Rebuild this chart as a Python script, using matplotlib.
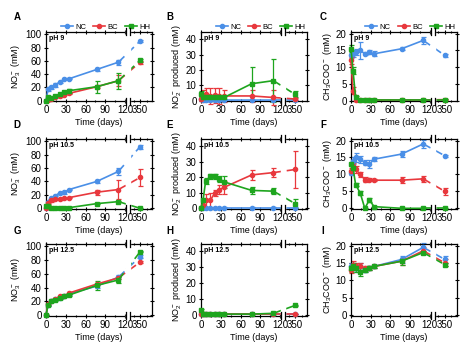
import numpy as np
import matplotlib
matplotlib.use("Agg")
import matplotlib.pyplot as plt
import matplotlib.transforms as mtransforms
from matplotlib.patches import Rectangle

plt.rcParams["font.family"] = ["Liberation Sans", "DejaVu Sans"]
plt.rcParams["mathtext.default"] = "regular"

days = [0, 3, 7, 14, 21, 28, 35, 77, 110, 350]

# A - nitrate, pH 9
A_nc = [0, 17, 20, 24, 28, 33, 33, 47, 58, 90]
A_nc_err = [0.5, 2, 2, 3, 1.5, 1, 1, 2, 4, 2]
A_bc = [0, 1, 3, 5, 7, 9, 11, 21, 30, 58]
A_bc_err = [0.3, 0.5, 1, 1, 1, 1, 1, 2, 8, 2]
A_hh = [0, 6, 4, 7, 10, 13, 15, 21, 30, 61]
A_hh_err = [0.5, 1, 1, 2, 2, 2, 3, 9, 12, 2]

# B - nitrite produced, pH 9
B_nc = [1, 0.5, 0.3, 0.3, 0.3, 0.3, 0.3, 0.3, 0.3, 0.3]
B_nc_err = [0.3] * 10
B_bc = [1, 3, 4, 3, 3.5, 3, 3, 3, 2, 1]
B_bc_err = [1, 4, 4, 5, 5, 5, 4, 4, 5, 0.5]
B_hh = [4, 2, 2, 2, 2, 2, 2, 11, 13, 4]
B_hh_err = [2, 1, 1, 1, 1, 1, 1, 11, 14, 2]

# C - acetate, pH 9
C_nc = [13.5, 14, 14.5, 15, 14, 14.5, 14, 15.5, 18, 13.5]
C_nc_err = [0.8, 1, 1, 2.5, 0.5, 0.5, 0.8, 0.5, 1, 0.5]
C_bc = [12, 3, 0.3, 0.2, 0.2, 0.2, 0.2, 0.2, 0.2, 0.3]
C_bc_err = [1, 1, 0.3, 0.2, 0.2, 0.2, 0.2, 0.2, 0.2, 0.2]
C_hh = [15.5, 9, 1, 0.2, 0.2, 0.2, 0.2, 0.2, 0.2, 0.2]
C_hh_err = [1, 1, 0.5, 0.2, 0.2, 0.2, 0.2, 0.2, 0.2, 0.2]

# D - nitrate, pH 10.5
D_nc = [0, 10, 15, 19, 23, 24, 28, 40, 55, 92]
D_nc_err = [0.5, 1, 1, 1, 1, 2, 1, 2, 5, 3]
D_bc = [0, 8, 12, 14, 14, 15, 16, 24, 28, 46]
D_bc_err = [0.5, 1, 2, 2, 1, 1, 1, 4, 14, 12]
D_hh = [3, 4, 1, 1, 1, 1, 1, 7, 10, 0]
D_hh_err = [1, 1, 0.5, 0.5, 0.5, 0.5, 0.5, 1, 1, 1]

# E - nitrite produced, pH 10.5
E_nc = [0.3] * 10
E_nc_err = [0.2] * 10
E_bc = [0, 2, 5, 5, 10, 12, 13.5, 21.5, 23, 25]
E_bc_err = [0.5, 2, 4, 5, 2, 3, 4, 3, 3, 12]
E_hh = [0, 5, 17.5, 20.5, 20.5, 19, 17, 11.5, 11, 3]
E_hh_err = [0.5, 1, 2, 1.5, 1.5, 2, 4, 2, 2, 3]

# F - acetate, pH 10.5
F_nc = [10.5, 14, 15, 14.5, 13.5, 13, 14.5, 16, 19, 15.5]
F_nc_err = [0.8, 1, 1.2, 1, 0.8, 1.2, 0.6, 0.8, 1.3, 0.3]
F_bc = [11, 12.5, 11.5, 10, 8.5, 8.5, 8.3, 8.3, 8.7, 5]
F_bc_err = [0.8, 1, 1, 0.8, 0.8, 0.3, 0.3, 0.8, 0.8, 1]
F_hh = [13, 12, 7, 4.5, 0, 2.5, 0.5, 0, 0, 0]
F_hh_err = [0.5, 0.5, 0.5, 0.5, 0.2, 0.5, 0.3, 0.2, 0.2, 0.2]

# G - nitrate, pH 12.5
G_nc = [0, 15, 20, 23, 25, 27, 31, 42, 55, 85]
G_nc_err = [0.5, 2, 1, 1, 1, 1, 2, 3, 3, 2]
G_bc = [0, 16, 21, 24, 27, 28, 32, 45, 54, 77]
G_bc_err = [0.5, 1, 1, 1, 1, 1, 1, 2, 2, 2]
G_hh = [0, 14, 20, 22, 25, 28, 29, 43, 51, 92]
G_hh_err = [0.5, 1, 1, 1, 1, 1, 1, 7, 5, 1]

# H - nitrite produced, pH 12.5
H_nc = [0.5] * 10
H_nc_err = [0.2] * 10
H_bc = [0.5] * 10
H_bc_err = [0.2] * 10
H_hh = [3, 0.5, 0.5, 0.5, 0.5, 0.5, 0.5, 0.5, 1, 6]
H_hh_err = [1, 0.2, 0.2, 0.2, 0.2, 0.2, 0.2, 0.2, 0.3, 0.5]

# I - acetate, pH 12.5
I_nc = [14, 14, 13.5, 14, 13, 13.5, 14, 16, 19.5, 16]
I_nc_err = [1, 1, 1, 1, 0.5, 0.5, 0.5, 1, 1.2, 1]
I_bc = [13, 14.5, 14, 14, 13.5, 13.5, 14, 15.5, 18.5, 15]
I_bc_err = [1, 1, 1, 1, 0.5, 0.5, 0.5, 1, 1, 1]
I_hh = [13.5, 14, 13.5, 12.5, 13, 13.5, 14, 15.5, 18, 14.5]
I_hh_err = [1, 1, 1, 1.2, 0.5, 0.5, 0.5, 1, 0.5, 0.5]

names = ["NC", "BC", "HH"]
colors = ["#4a8fe7", "#e8383d", "#1ea51e"]
markers = ["o", "o", "s"]


def fwd(x):
    x = np.asarray(x, dtype=float)
    return np.where(x <= 120, x, np.where(x >= 335, x - 207, 120 + (x - 120) * 8 / 215))


def inv(u):
    u = np.asarray(u, dtype=float)
    return np.where(u <= 120, u, np.where(u >= 128, u + 207, 120 + (u - 120) * 215 / 8))


def draw_panel(ax, series, ylim, yticks, ylabel, ph, legend):
    ax.set_xscale("function", functions=(fwd, inv))
    d = np.array(days)
    for (vals, errs), color, marker, name in zip(series, colors, markers, names):
        v = np.array(vals)
        e = np.array(errs)
        ax.errorbar(d, v, yerr=e, fmt="none", ecolor=color, elinewidth=0.9,
                    capsize=1.8, capthick=0.9, clip_on=False, zorder=2)
        ax.plot(d[:-1], v[:-1], color=color, lw=1.2, marker=marker, ms=3,
                label=name, clip_on=False, zorder=3)
        ax.plot(d[-2:], v[-2:], color=color, lw=1.2, ls=(0, (5, 3)), clip_on=False, zorder=3)
        ax.plot(d[-1:], v[-1:], color=color, marker=marker, ms=3, ls="none",
                clip_on=False, zorder=3)

    ax.set_xlim(-0.5, 368)
    ax.set_ylim(*ylim)
    ax.set_xticks([0, 30, 60, 90, 120, 350])
    ax.set_xticks([15, 45, 75, 105, 340, 360], minor=True)
    ax.set_yticks(yticks)
    ax.tick_params(which="both", direction="inout", top=True, right=True,
                   labelsize=7, width=0.8, length=3, pad=1.5)
    ax.tick_params(which="minor", length=2)
    for s in ax.spines.values():
        s.set_linewidth(0.9)
    ax.set_xlabel("Time (days)", fontsize=6.5, labelpad=2)
    ax.set_ylabel(ylabel, fontsize=6.5, labelpad=1.5)
    ax.text(0.03, 0.95, ph, transform=ax.transAxes, fontsize=5, fontweight="bold", va="top")

    # broken axis gap
    g0, g1 = float(inv(122)), float(inv(127.5))
    tr = mtransforms.blended_transform_factory(ax.transData, ax.transAxes)
    ax.add_patch(Rectangle((g0, -0.025), g1 - g0, 1.05, transform=tr, color="white",
                           zorder=5, clip_on=False))
    for gx in (g0, g1):
        ax.plot([gx, gx], [-0.05, 0.05], transform=tr, color="black", lw=0.9,
                clip_on=False, zorder=6)
        ax.plot([gx, gx], [0.95, 1.05], transform=tr, color="black", lw=0.9,
                clip_on=False, zorder=6)

    if legend:
        ax.legend(loc="lower right", bbox_to_anchor=(1.0, 0.99), ncol=3, frameon=False,
                  fontsize=5.5, handlelength=1.6, handletextpad=0.3, columnspacing=0.9,
                  borderpad=0.1, borderaxespad=0.1)


W, H = 474, 343
fig = plt.figure(figsize=(W / 100, H / 100), dpi=100)

cols = [(45.7, 152), (200.7, 307), (350.7, 456.7)]
rows = [(31.7, 101.3), (138.5, 209), (243.5, 315.7)]

panels = [
    [("A", [(A_nc, A_nc_err), (A_bc, A_bc_err), (A_hh, A_hh_err)]),
     ("B", [(B_nc, B_nc_err), (B_bc, B_bc_err), (B_hh, B_hh_err)]),
     ("C", [(C_nc, C_nc_err), (C_bc, C_bc_err), (C_hh, C_hh_err)])],
    [("D", [(D_nc, D_nc_err), (D_bc, D_bc_err), (D_hh, D_hh_err)]),
     ("E", [(E_nc, E_nc_err), (E_bc, E_bc_err), (E_hh, E_hh_err)]),
     ("F", [(F_nc, F_nc_err), (F_bc, F_bc_err), (F_hh, F_hh_err)])],
    [("G", [(G_nc, G_nc_err), (G_bc, G_bc_err), (G_hh, G_hh_err)]),
     ("H", [(H_nc, H_nc_err), (H_bc, H_bc_err), (H_hh, H_hh_err)]),
     ("I", [(I_nc, I_nc_err), (I_bc, I_bc_err), (I_hh, I_hh_err)])],
]
ph_labels = ["pH 9", "pH 10.5", "pH 12.5"]
col_ylabels = [r"NO$_3^-$ (mM)", r"NO$_2^-$ produced (mM)", r"CH$_3$COO$^-$ (mM)"]
col_ylims = [(-1, 104), (-0.5, 45), (-0.2, 20.6)]
col_yticks = [[0, 20, 40, 60, 80, 100], [0, 10, 20, 30, 40], [0, 5, 10, 15, 20]]
letter_x = [17, 170, 323]
letter_y = [17, 125, 231]

for r, (top, bot) in enumerate(rows):
    for c, (left, right) in enumerate(cols):
        letter, series = panels[r][c]
        ax = fig.add_axes([left / W, 1 - bot / H, (right - left) / W, (bot - top) / H])
        draw_panel(ax, series, col_ylims[c], col_yticks[c], col_ylabels[c],
                   ph_labels[r], legend=(r == 0))
        fig.text(letter_x[c] / W, 1 - letter_y[r] / H, letter, fontsize=7,
                 fontweight="bold", ha="center", va="center")

fig.savefig("out.png", dpi=100)
